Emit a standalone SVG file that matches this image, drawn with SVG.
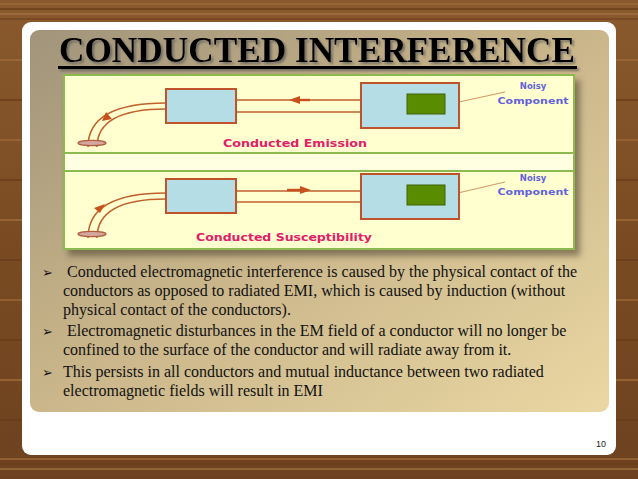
<svg xmlns="http://www.w3.org/2000/svg" width="638" height="479" viewBox="0 0 638 479">
<style>
.wood{stroke-width:1.5;fill:none}
.box{fill:#B5DDE6;stroke:#C0532B;stroke-width:2}
.chip{fill:#5A8C00;stroke:#3E6200;stroke-width:1}
.wire{fill:none;stroke:#C0622F;stroke-width:1.6}
.lead{fill:none;stroke:#D49A6A;stroke-width:1.2}
.lbl{font-family:"DejaVu Sans",Verdana,sans-serif;font-weight:bold;font-size:10px;fill:#E0206A}
.noisy{font-family:"DejaVu Sans",Verdana,sans-serif;font-weight:bold;font-size:8.5px;fill:#6262DA}
.body{font-family:"Liberation Serif","Times New Roman",serif;font-size:16px;fill:#111}
.bul{font-family:"DejaVu Sans",sans-serif;font-size:13px;fill:#111}
.arr{fill:#C8501C}
.gnd{fill:#D4A8A0;stroke:#B0603C;stroke-width:1.2}
</style>
<defs>
<linearGradient id="woodg" x1="0" y1="0" x2="0" y2="1">
<stop offset="0" stop-color="#8A5A2E"/>
<stop offset="0.5" stop-color="#7A4B22"/>
<stop offset="1" stop-color="#6E4220"/>
</linearGradient>
<linearGradient id="tan" x1="0" y1="0" x2="1" y2="1">
<stop offset="0" stop-color="#A1947B"/>
<stop offset="0.45" stop-color="#C7B388"/>
<stop offset="1" stop-color="#EAD7A3"/>
</linearGradient>
<filter id="sh" x="-10%" y="-10%" width="120%" height="130%">
<feGaussianBlur stdDeviation="3"/>
</filter>
<filter id="tsh" x="-5%" y="-20%" width="110%" height="150%">
<feGaussianBlur in="SourceAlpha" stdDeviation="1"/>
<feOffset dx="2" dy="2" result="b"/>
<feFlood flood-color="#555" flood-opacity="0.7"/>
<feComposite in2="b" operator="in" result="s"/>
<feMerge><feMergeNode in="s"/><feMergeNode in="SourceGraphic"/></feMerge>
</filter>
</defs>

<g id="background">
<rect x="0" y="0" width="638" height="479" fill="url(#woodg)"/>
<g class="wood">
<path d="M0,4 H638" stroke="#9C6A3A"/>
<path d="M0,9 H638" stroke="#6A3E1A"/>
<path d="M0,14 H638" stroke="#A07040"/>
<path d="M0,19 H638" stroke="#734520"/>
<path d="M0,60 H22 M616,60 H638" stroke="#A06C3A"/>
<path d="M0,100 H22 M616,100 H638" stroke="#6A3C18"/>
<path d="M0,140 H22 M616,140 H638" stroke="#9A6636"/>
<path d="M0,180 H22 M616,180 H638" stroke="#6A3C18"/>
<path d="M0,220 H22 M616,220 H638" stroke="#A06C3A"/>
<path d="M0,260 H22 M616,260 H638" stroke="#6A3C18"/>
<path d="M0,300 H22 M616,300 H638" stroke="#9A6636"/>
<path d="M0,340 H22 M616,340 H638" stroke="#6A3C18"/>
<path d="M0,380 H22 M616,380 H638" stroke="#A06C3A"/>
<path d="M0,420 H22 M616,420 H638" stroke="#6A3C18"/>
<path d="M0,459 H638" stroke="#9C6A3A"/>
<path d="M0,464 H638" stroke="#6A3E1A"/>
<path d="M0,469 H638" stroke="#A07040"/>
<path d="M0,474 H638" stroke="#734520"/>
</g>
</g>

<g id="card">
<rect x="22" y="22" width="594" height="433" rx="9" fill="#FFFFFF"/>
<rect x="30" y="30" width="579" height="382" rx="9" fill="url(#tan)"/>
<text x="606" y="447" text-anchor="end" font-family="'Liberation Sans',Arial,sans-serif" font-size="9" fill="#222">10</text>
</g>

<g id="title" filter="url(#tsh)">
<text x="59" y="62" font-family="'Liberation Serif','Times New Roman',serif" font-weight="bold" font-size="36" fill="#000" textLength="516" lengthAdjust="spacingAndGlyphs">CONDUCTED INTERFERENCE</text>
<rect x="58" y="66" width="519" height="3" fill="#000"/>
</g>

<g id="diagram-frame">
<rect x="68" y="80" width="512" height="176" fill="#3A3020" opacity="0.5" filter="url(#sh)"/>
<rect x="64" y="75" width="510" height="174" fill="#FFFFE2" stroke="#8CBA50" stroke-width="2"/>
</g>

<g id="panel-emission">
<rect x="64" y="75" width="510" height="78" fill="#FFFFCF" stroke="#8CBA50" stroke-width="2"/>
<text class="lbl" x="223" y="147" textLength="144" lengthAdjust="spacingAndGlyphs">Conducted  Emission</text>
</g>
<g id="panel-susceptibility">
<rect x="64" y="171" width="510" height="78" fill="#FFFFCF" stroke="#8CBA50" stroke-width="2"/>
<text class="lbl" x="196" y="241" textLength="176" lengthAdjust="spacingAndGlyphs">Conducted  Susceptibility</text>
</g>

<g id="connectors">
<path class="wire" d="M236,100 H361 M236,112 H361"/>
<path class="wire" d="M166,103 Q88,103 88,147"/>
<path class="wire" d="M166,109 Q97,109 97,147"/>
<path class="lead" d="M445,105 L505,92"/>
<rect x="298" y="98.8" width="12" height="2.4" class="arr"/>
<polygon class="arr" points="289,100 300,96 300,104"/>
<polygon class="arr" points="102,121 106,112 112,119"/>
<path class="wire" d="M236,191 H361 M236,202 H361"/>
<path class="wire" d="M166,193 Q88,193 88,238"/>
<path class="wire" d="M166,199 Q97,199 97,238"/>
<path class="lead" d="M445,196 L505,182"/>
<rect x="287" y="188.8" width="13" height="2.4" class="arr"/>
<polygon class="arr" points="311,190 300,186 300,194"/>
<polygon class="arr" points="105,204 100,213 94,208"/>
</g>

<g id="node-e-left"><rect class="box" x="166" y="89" width="70" height="34"/></g>
<g id="node-e-right"><rect class="box" x="361" y="83" width="98" height="45"/><rect class="chip" x="407" y="94" width="38" height="20"/></g>
<g id="node-e-ground"><ellipse class="gnd" cx="92" cy="143" rx="14" ry="2.6"/></g>
<g id="label-e-noisy">
<text class="noisy" x="533" y="89" text-anchor="middle">Noisy</text>
<text class="noisy" x="533" y="104" text-anchor="middle" textLength="71" lengthAdjust="spacingAndGlyphs">Component</text>
</g>

<g id="node-s-left"><rect class="box" x="166" y="179" width="70" height="34"/></g>
<g id="node-s-right"><rect class="box" x="361" y="174" width="98" height="45"/><rect class="chip" x="407" y="185" width="38" height="20"/></g>
<g id="node-s-ground"><ellipse class="gnd" cx="92" cy="234" rx="14" ry="2.6"/></g>
<g id="label-s-noisy">
<text class="noisy" x="533" y="181" text-anchor="middle">Noisy</text>
<text class="noisy" x="533" y="195" text-anchor="middle" textLength="71" lengthAdjust="spacingAndGlyphs">Component</text>
</g>

<g id="bullets">
<text class="bul" x="42" y="277">➢</text>
<text class="bul" x="42" y="336">➢</text>
<text class="bul" x="42" y="377">➢</text>
<text class="body" x="63" y="277" xml:space="preserve"> Conducted electromagnetic interference is caused by the physical contact of the</text>
<text class="body" x="63" y="296">conductors as opposed to radiated EMI, which is caused by induction (without</text>
<text class="body" x="63" y="315">physical contact of the conductors).</text>
<text class="body" x="63" y="336" xml:space="preserve"> Electromagnetic disturbances in the EM field of a conductor will no longer be</text>
<text class="body" x="63" y="355">confined to the surface of the conductor and will radiate away from it.</text>
<text class="body" x="63" y="377">This persists in all conductors and mutual inductance between two radiated</text>
<text class="body" x="63" y="396">electromagnetic fields will result in EMI</text>
</g>
</svg>
